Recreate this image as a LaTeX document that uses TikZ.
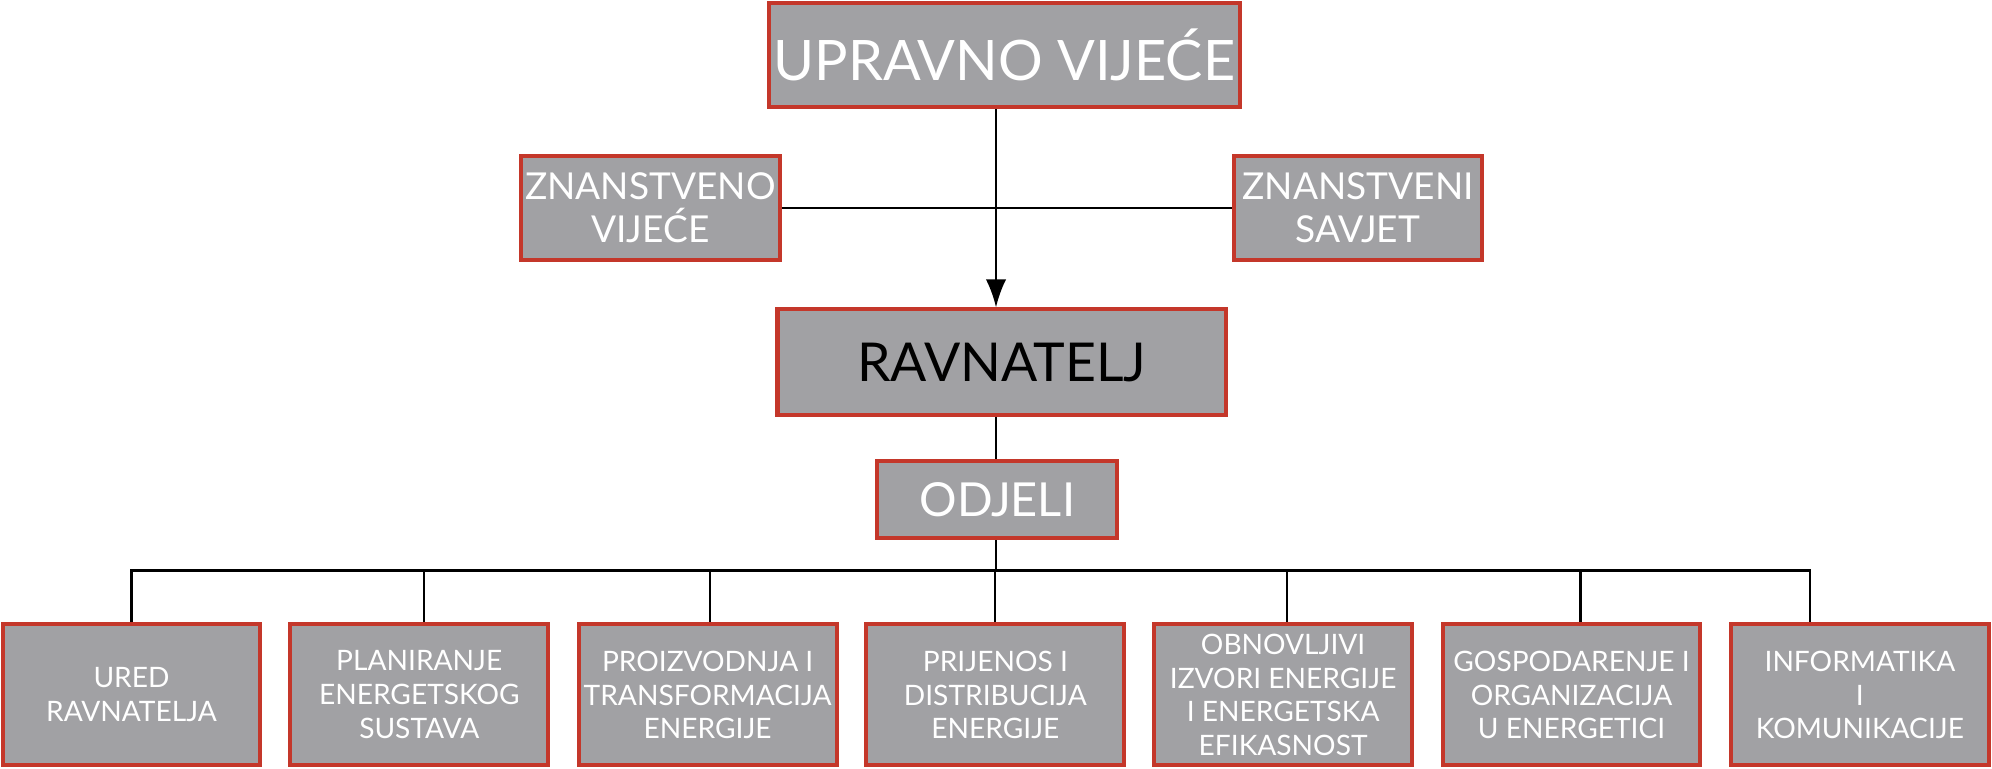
\documentclass[tikz,border=0pt]{standalone}
\usepackage{fontspec}
\setmainfont{Lato}
\usetikzlibrary{arrows.meta}
\definecolor{boxgray}{HTML}{A1A1A4}
\definecolor{boxred}{HTML}{C4372A}
\tikzset{
  unit/.style={rectangle, draw=boxred, line width=0.9pt, fill=boxgray, text=white, align=center, inner sep=1pt},
  dept/.style={unit, minimum width=2.03cm, minimum height=1.11cm, font=\fontsize{6.3}{7.6}\selectfont},
  link/.style={draw=black, line width=0.5pt}
}
\begin{document}
\begin{tikzpicture}
      \useasboundingbox (0,0) rectangle (15.68,-6.05);

      % Top
      \node[unit, minimum width=3.53cm, minimum height=0.82cm, font=\fontsize{12.5}{14}\selectfont] (uv) at (7.905,-0.435) {UPRAVNO VIJEĆE};
      \node[unit, minimum width=1.99cm, minimum height=0.82cm, font=\fontsize{8.3}{9.6}\selectfont] (zv) at (5.12,-1.635) {ZNANSTVENO\\VIJEĆE};
      \node[unit, minimum width=1.95cm, minimum height=0.82cm, font=\fontsize{8.3}{9.6}\selectfont] (zs) at (10.69,-1.635) {ZNANSTVENI\\SAVJET};
      \node[unit, text=black, minimum width=3.53cm, minimum height=0.83cm, font=\fontsize{12}{14}\selectfont] (rav) at (7.885,-2.85) {RAVNATELJ};
      \node[unit, minimum width=1.89cm, minimum height=0.61cm, font=\fontsize{10.5}{12}\selectfont] (odj) at (7.85,-3.93) {ODJELI};

      % Departments
      \node[dept] (d1) at (1.035,-5.47) {URED\\RAVNATELJA};
      \node[dept] (d2) at (3.30,-5.47) {PLANIRANJE\\ENERGETSKOG\\SUSTAVA};
      \node[dept] (d3) at (5.57,-5.47) {PROIZVODNJA I\\TRANSFORMACIJA\\ENERGIJE};
      \node[dept] (d4) at (7.835,-5.47) {PRIJENOS I\\DISTRIBUCIJA\\ENERGIJE};
      \node[dept] (d5) at (10.10,-5.47) {OBNOVLJIVI\\IZVORI ENERGIJE\\I ENERGETSKA\\EFIKASNOST};
      \node[dept] (d6) at (12.37,-5.47) {GOSPODARENJE I\\ORGANIZACIJA\\U ENERGETICI};
      \node[dept] (d7) at (14.64,-5.47) {INFORMATIKA\\I\\KOMUNIKACIJE};

      % Connectors
      \coordinate (bus) at (7.84,-4.49);
      \draw[link, -{Latex[length=2.2mm,width=1.6mm]}] (uv.south -| bus) -- (rav.north -| bus);
      \draw[link] (zv.east) -- (zs.west);
      \draw[link] (rav.south -| bus) -- (odj.north -| bus);
      \draw[link] (odj.south -| bus) -- (bus);
      \foreach \n/\dx in {d1/0, d2/0.04, d3/0.02, d4/0, d5/0.03, d6/0.07, d7/-0.39}
        \draw[link] (bus) -| ([xshift=\dx cm]\n.north);
\end{tikzpicture}
\end{document}
